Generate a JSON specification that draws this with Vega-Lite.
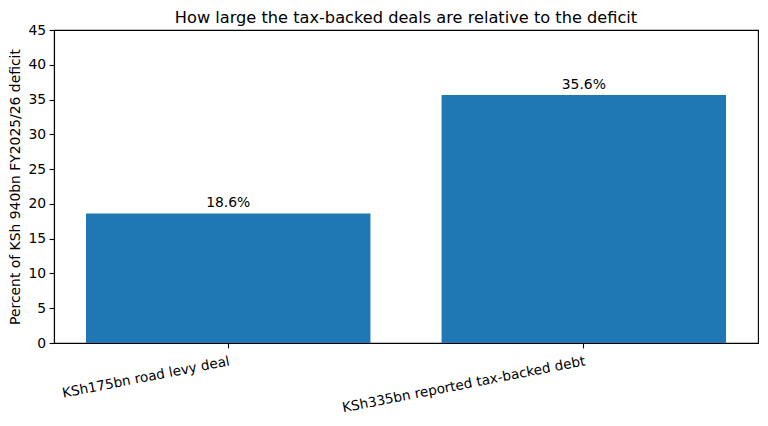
{
  "$schema": "https://vega.github.io/schema/vega-lite/v6.json",
  "width": 704,
  "height": 313,
  "autosize": {"type": "none"},
  "padding": {"left": 54, "top": 30, "right": 10, "bottom": 83},
  "background": "white",
  "config": {
    "font": "DejaVu Sans",
    "view": {"stroke": "black", "strokeWidth": 1.1},
    "axis": {
      "grid": false,
      "domainColor": "black",
      "domainWidth": 1.1,
      "tickColor": "black",
      "tickWidth": 1.1,
      "tickSize": 4.9,
      "labelPadding": 3.5,
      "labelFont": "DejaVu Sans",
      "labelFontSize": 13.9,
      "labelColor": "black",
      "labelLimit": 0,
      "titleFont": "DejaVu Sans",
      "titleFontSize": 13.9,
      "titleFontWeight": "normal",
      "titleColor": "black"
    },
    "title": {"font": "DejaVu Sans", "fontSize": 16.2, "fontWeight": "normal", "color": "black", "offset": 6}
  },
  "title": {"text": "How large the tax-backed deals are relative to the deficit", "anchor": "middle", "dy": 9},
  "data": {
    "values": [
      {"category": "KSh175bn road levy deal", "pct": 18.62, "label": "18.6%"},
      {"category": "KSh335bn reported tax-backed debt", "pct": 35.64, "label": "35.6%"}
    ]
  },
  "encoding": {
    "x": {
      "field": "category",
      "type": "nominal",
      "sort": null,
      "scale": {"paddingInner": 0.2, "paddingOuter": 0.09},
      "axis": {"title": null, "labelAngle": -11, "labelAlign": "right", "labelBaseline": "top", "labelPadding": 6, "labelLimit": 0, "labelFontSize": 13.6}
    },
    "y": {
      "field": "pct",
      "type": "quantitative",
      "scale": {"domain": [0, 45], "nice": false},
      "axis": {"title": "Percent of KSh 940bn FY2025/26 deficit", "values": [0, 5, 10, 15, 20, 25, 30, 35, 40, 45], "titlePadding": 5}
    }
  },
  "layer": [
    {"mark": {"type": "bar", "color": "#1f77b4"}},
    {
      "mark": {"type": "text", "baseline": "bottom", "dy": -3, "fontSize": 13.9, "color": "black", "font": "DejaVu Sans"},
      "encoding": {"text": {"field": "label"}}
    }
  ]
}
